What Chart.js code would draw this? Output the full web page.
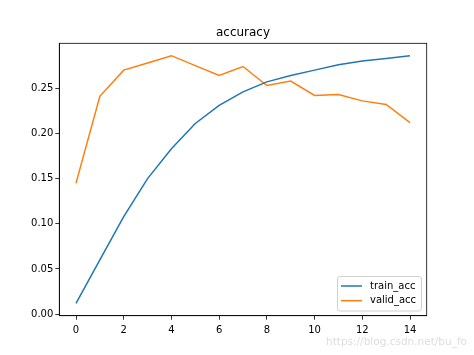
<!DOCTYPE html>
<html>
<head>
<meta charset="utf-8">
<script src="https://cdn.jsdelivr.net/npm/chart.js@4"></script>
<style>
html,body{margin:0;padding:0;background:#fff;}
canvas{display:block;}
</style>
</head>
<body>
<canvas id="c" width="474" height="355"></canvas>
<script>
const epochs = [0,1,2,3,4,5,6,7,8,9,10,11,12,13,14];
const trainAcc = [0.012,0.060,0.108,0.150,0.183,0.211,0.231,0.246,0.257,0.264,0.270,0.276,0.280,0.283,0.286];
const validAcc = [0.145,0.241,0.270,0.278,0.286,0.275,0.264,0.274,0.253,0.258,0.242,0.243,0.236,0.232,0.212];
const seriesLabels = ['train_acc','valid_acc'];
const titleText = 'accuracy';
const watermark = 'https://blog.csdn.net/bu_fo';

const FONT = '"DejaVu Sans", sans-serif';
Chart.defaults.font.family = FONT;
Chart.defaults.color = '#000';

const framePlugin = {
  id: 'frame',
  afterDatasetsDraw(chart) {
    const {ctx, chartArea: a} = chart;
    ctx.save();
    ctx.strokeStyle = '#000';
    ctx.lineWidth = 0.8;
    ctx.strokeRect(a.left, a.top, a.right - a.left, a.bottom - a.top);
    ctx.restore();
  },
  afterDraw(chart) {
    const {ctx, chartArea: a} = chart;
    ctx.save();
    // title
    ctx.fillStyle = '#000';
    ctx.font = '12px ' + FONT;
    ctx.textAlign = 'center';
    ctx.textBaseline = 'alphabetic';
    ctx.fillText(titleText, (a.left + a.right) / 2, 36);
    // legend
    const bx = 337.5, by = 276.5, bw = 84, bh = 34.5, r = 2.5;
    ctx.beginPath();
    ctx.moveTo(bx + r, by);
    ctx.lineTo(bx + bw - r, by);
    ctx.quadraticCurveTo(bx + bw, by, bx + bw, by + r);
    ctx.lineTo(bx + bw, by + bh - r);
    ctx.quadraticCurveTo(bx + bw, by + bh, bx + bw - r, by + bh);
    ctx.lineTo(bx + r, by + bh);
    ctx.quadraticCurveTo(bx, by + bh, bx, by + bh - r);
    ctx.lineTo(bx, by + r);
    ctx.quadraticCurveTo(bx, by, bx + r, by);
    ctx.closePath();
    ctx.fillStyle = 'rgba(255,255,255,0.8)';
    ctx.fill();
    ctx.strokeStyle = '#d0d0d0';
    ctx.lineWidth = 1;
    ctx.stroke();
    ctx.font = '10px ' + FONT;
    ctx.textAlign = 'left';
    ctx.textBaseline = 'middle';
    chart.data.datasets.forEach((ds, i) => {
      const y = 286 + i * 14.7;
      ctx.strokeStyle = ds.borderColor;
      ctx.lineWidth = 1.5;
      ctx.beginPath();
      ctx.moveTo(341, y);
      ctx.lineTo(362, y);
      ctx.stroke();
      ctx.fillStyle = '#000';
      ctx.fillText(ds.label, 370, y);
    });
    // watermark
    ctx.fillStyle = 'rgba(215,215,215,0.85)';
    ctx.font = '10.5px ' + FONT;
    ctx.textAlign = 'right';
    ctx.textBaseline = 'middle';
    ctx.fillText(watermark, 467, 342);
    ctx.restore();
  }
};

new Chart(document.getElementById('c'), {
  type: 'line',
  data: {
    labels: epochs,
    datasets: [
      { label: seriesLabels[0], data: epochs.map((x, i) => ({x, y: trainAcc[i]})), borderColor: '#1f77b4', backgroundColor: '#1f77b4', borderWidth: 1.5, pointRadius: 0, tension: 0, fill: false },
      { label: seriesLabels[1], data: epochs.map((x, i) => ({x, y: validAcc[i]})), borderColor: '#ff7f0e', backgroundColor: '#ff7f0e', borderWidth: 1.5, pointRadius: 0, tension: 0, fill: false }
    ]
  },
  options: {
    responsive: false,
    animation: false,
    events: [],
    layout: { padding: { top: 43.3, right: 47.3, left: 0, bottom: 0 } },
    plugins: { legend: { display: false }, title: { display: false }, tooltip: { enabled: false } },
    scales: {
      x: {
        type: 'linear',
        min: -0.7, max: 14.7,
        afterFit(s) { s.height = 39.3; },
        border: { display: true, color: '#000', width: 0.8 },
        grid: { display: true, drawOnChartArea: false, drawTicks: true, tickLength: 4, color: '#000', lineWidth: 0.8 },
        ticks: { stepSize: 2, includeBounds: false, autoSkip: false, maxRotation: 0, padding: 5, font: { size: 10 }, color: '#000', callback: v => String(v) }
      },
      y: {
        type: 'linear',
        min: -0.0017, max: 0.2997,
        afterFit(s) { s.width = 59.3; },
        border: { display: true, color: '#000', width: 0.8 },
        grid: { display: true, drawOnChartArea: false, drawTicks: true, tickLength: 4, color: '#000', lineWidth: 0.8 },
        ticks: { stepSize: 0.05, includeBounds: false, autoSkip: false, padding: 2, font: { size: 10 }, color: '#000', callback: v => (Math.round(v * 100) / 100).toFixed(2) }
      }
    }
  },
  plugins: [framePlugin]
});
</script>
</body>
</html>
